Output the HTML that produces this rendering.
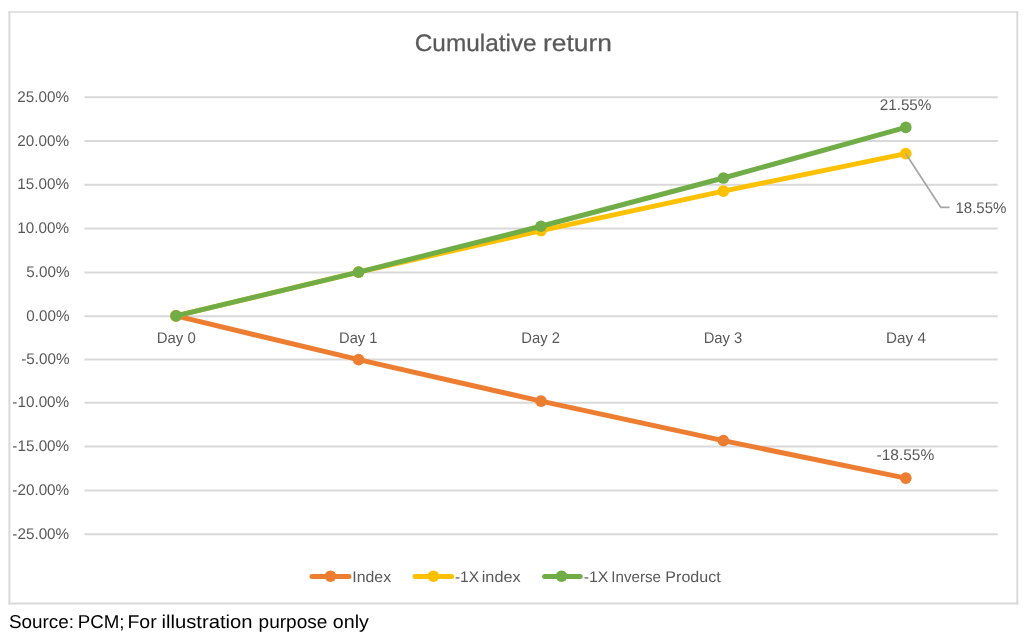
<!DOCTYPE html>
<html><head><meta charset="utf-8"><title>Cumulative return</title>
<style>
html,body{margin:0;padding:0;background:#fff;width:1024px;height:638px;overflow:hidden}
svg{display:block;will-change:transform}
text{font-family:"Liberation Sans", Arial, sans-serif;text-rendering:geometricPrecision}
</style></head><body>
<svg width="1024" height="638" viewBox="0 0 1024 638">
<g stroke="#d9d9d9" fill="none"><line x1="8.4" x2="1018.3" y1="11.9" y2="11.9" stroke-width="1.5"/><line x1="8.4" x2="1018.3" y1="603.6" y2="603.6" stroke-width="2"/><line x1="9.4" x2="9.4" y1="11.2" y2="604.6" stroke-width="2"/><line x1="1017.3" x2="1017.3" y1="11.2" y2="604.6" stroke-width="2"/></g>
<line x1="84.4" x2="997.7" y1="97.30" y2="97.30" stroke="#d9d9d9" stroke-width="2.0"/>
<line x1="84.4" x2="997.7" y1="141.10" y2="141.10" stroke="#d9d9d9" stroke-width="2.0"/>
<line x1="84.4" x2="997.7" y1="184.70" y2="184.70" stroke="#d9d9d9" stroke-width="2.0"/>
<line x1="84.4" x2="997.7" y1="228.60" y2="228.60" stroke="#d9d9d9" stroke-width="2.0"/>
<line x1="84.4" x2="997.7" y1="272.50" y2="272.50" stroke="#d9d9d9" stroke-width="2.0"/>
<line x1="84.4" x2="997.7" y1="316.30" y2="316.30" stroke="#d9d9d9" stroke-width="2.0"/>
<line x1="84.4" x2="997.7" y1="359.50" y2="359.50" stroke="#d9d9d9" stroke-width="2.0"/>
<line x1="84.4" x2="997.7" y1="402.70" y2="402.70" stroke="#d9d9d9" stroke-width="2.0"/>
<line x1="84.4" x2="997.7" y1="446.60" y2="446.60" stroke="#d9d9d9" stroke-width="2.0"/>
<line x1="84.4" x2="997.7" y1="490.50" y2="490.50" stroke="#d9d9d9" stroke-width="2.0"/>
<line x1="84.4" x2="997.7" y1="534.30" y2="534.30" stroke="#d9d9d9" stroke-width="2.0"/>
<polyline points="176.00,315.90 358.60,359.63 541.00,401.17 723.40,440.64 905.80,478.13" fill="none" stroke="#ed7d31" stroke-width="5.0" stroke-linejoin="round" stroke-linecap="round"/><circle cx="176.00" cy="315.90" r="5.8" fill="#ed7d31"/><circle cx="358.60" cy="359.63" r="5.8" fill="#ed7d31"/><circle cx="541.00" cy="401.17" r="5.8" fill="#ed7d31"/><circle cx="723.40" cy="440.64" r="5.8" fill="#ed7d31"/><circle cx="905.80" cy="478.13" r="5.8" fill="#ed7d31"/>
<polyline points="176.00,315.90 358.60,272.17 541.00,230.63 723.40,191.16 905.80,153.67" fill="none" stroke="#ffc000" stroke-width="5.0" stroke-linejoin="round" stroke-linecap="round"/><circle cx="176.00" cy="315.90" r="5.8" fill="#ffc000"/><circle cx="358.60" cy="272.17" r="5.8" fill="#ffc000"/><circle cx="541.00" cy="230.63" r="5.8" fill="#ffc000"/><circle cx="723.40" cy="191.16" r="5.8" fill="#ffc000"/><circle cx="905.80" cy="153.67" r="5.8" fill="#ffc000"/>
<polyline points="176.00,315.90 358.60,272.17 541.00,226.25 723.40,178.04 905.80,127.42" fill="none" stroke="#70ad47" stroke-width="5.0" stroke-linejoin="round" stroke-linecap="round"/><circle cx="176.00" cy="315.90" r="5.8" fill="#70ad47"/><circle cx="358.60" cy="272.17" r="5.8" fill="#70ad47"/><circle cx="541.00" cy="226.25" r="5.8" fill="#70ad47"/><circle cx="723.40" cy="178.04" r="5.8" fill="#70ad47"/><circle cx="905.80" cy="127.42" r="5.8" fill="#70ad47"/>
<polyline points="905.80,153.67 940.8,207.4 949.5,207.4" fill="none" stroke="#a6a6a6" stroke-width="1.8"/>
<line x1="312.0" x2="348.9" y1="576.4" y2="576.4" stroke="#ed7d31" stroke-width="5.0" stroke-linecap="round"/><circle cx="330.5" cy="576.2" r="5.8" fill="#ed7d31"/>
<line x1="415.0" x2="451.6" y1="576.4" y2="576.4" stroke="#ffc000" stroke-width="5.0" stroke-linecap="round"/><circle cx="433.4" cy="576.2" r="5.8" fill="#ffc000"/>
<line x1="544.6" x2="580.2" y1="576.4" y2="576.4" stroke="#70ad47" stroke-width="5.0" stroke-linecap="round"/><circle cx="561.6" cy="576.2" r="5.8" fill="#70ad47"/>
<text transform="translate(414.78 51.00) scale(1.0195 1)" font-size="23.9" fill="#595959" stroke="#595959" stroke-width="0.25">Cumulative</text>
<text transform="translate(542.99 51.00) scale(1.1034 1)" font-size="23.9" fill="#595959" stroke="#595959" stroke-width="0.25">return</text>
<text transform="translate(17.31 101.80) scale(0.9912 1)" font-size="15.4" fill="#595959">25.00%</text>
<text transform="translate(17.31 145.60) scale(0.9912 1)" font-size="15.4" fill="#595959">20.00%</text>
<text transform="translate(17.31 189.20) scale(0.9912 1)" font-size="15.4" fill="#595959">15.00%</text>
<text transform="translate(17.31 233.10) scale(0.9912 1)" font-size="15.4" fill="#595959">10.00%</text>
<text transform="translate(26.23 277.00) scale(0.9912 1)" font-size="15.4" fill="#595959">5.00%</text>
<text transform="translate(26.23 320.80) scale(0.9912 1)" font-size="15.4" fill="#595959">0.00%</text>
<text transform="translate(21.27 364.00) scale(0.9912 1)" font-size="15.4" fill="#595959">-5.00%</text>
<text transform="translate(12.35 407.20) scale(0.9912 1)" font-size="15.4" fill="#595959">-10.00%</text>
<text transform="translate(12.35 451.10) scale(0.9912 1)" font-size="15.4" fill="#595959">-15.00%</text>
<text transform="translate(12.35 495.00) scale(0.9912 1)" font-size="15.4" fill="#595959">-20.00%</text>
<text transform="translate(12.35 538.80) scale(0.9912 1)" font-size="15.4" fill="#595959">-25.00%</text>
<text transform="translate(156.63 342.70) scale(0.9718 1)" font-size="15.4" fill="#595959">Day 0</text>
<text transform="translate(339.05 342.70) scale(0.9538 1)" font-size="15.4" fill="#595959">Day 1</text>
<text transform="translate(521.34 342.70) scale(0.9615 1)" font-size="15.4" fill="#595959">Day 2</text>
<text transform="translate(703.64 342.70) scale(0.9615 1)" font-size="15.4" fill="#595959">Day 3</text>
<text transform="translate(886.11 342.70) scale(0.9895 1)" font-size="15.4" fill="#595959">Day 4</text>
<text transform="translate(879.71 109.60) scale(0.9902 1)" font-size="15.4" fill="#595959">21.55%</text>
<text transform="translate(955.42 212.80) scale(0.9765 1)" font-size="15.4" fill="#595959">18.55%</text>
<text transform="translate(876.49 459.90) scale(1.0071 1)" font-size="15.4" fill="#595959">-18.55%</text>
<text transform="translate(352.27 581.80) scale(1.0306 1)" font-size="15.4" fill="#595959">Index</text>
<text transform="translate(454.89 581.80) scale(1.0091 1)" font-size="15.4" fill="#595959">-1X</text>
<text transform="translate(481.74 581.80) scale(1.0571 1)" font-size="15.4" fill="#595959">index</text>
<text transform="translate(583.77 581.80) scale(1.0273 1)" font-size="15.4" fill="#595959">-1X</text>
<text transform="translate(611.32 581.80) scale(0.9837 1)" font-size="15.4" fill="#595959">Inverse</text>
<text transform="translate(665.36 581.80) scale(1.0442 1)" font-size="15.4" fill="#595959">Product</text>
<text transform="translate(8.88 627.60) scale(1.0177 1)" font-size="18.6" fill="#000000">Source:</text>
<text transform="translate(77.69 627.60) scale(1.0047 1)" font-size="18.6" fill="#000000">PCM;</text>
<text transform="translate(127.40 627.60) scale(1.0500 1)" font-size="18.6" fill="#000000">For</text>
<text transform="translate(161.41 627.60) scale(1.0889 1)" font-size="18.6" fill="#000000">illustration</text>
<text transform="translate(258.58 627.60) scale(1.0246 1)" font-size="18.6" fill="#000000">purpose</text>
<text transform="translate(332.84 627.60) scale(1.0576 1)" font-size="18.6" fill="#000000">only</text>
</svg>
</body></html>
